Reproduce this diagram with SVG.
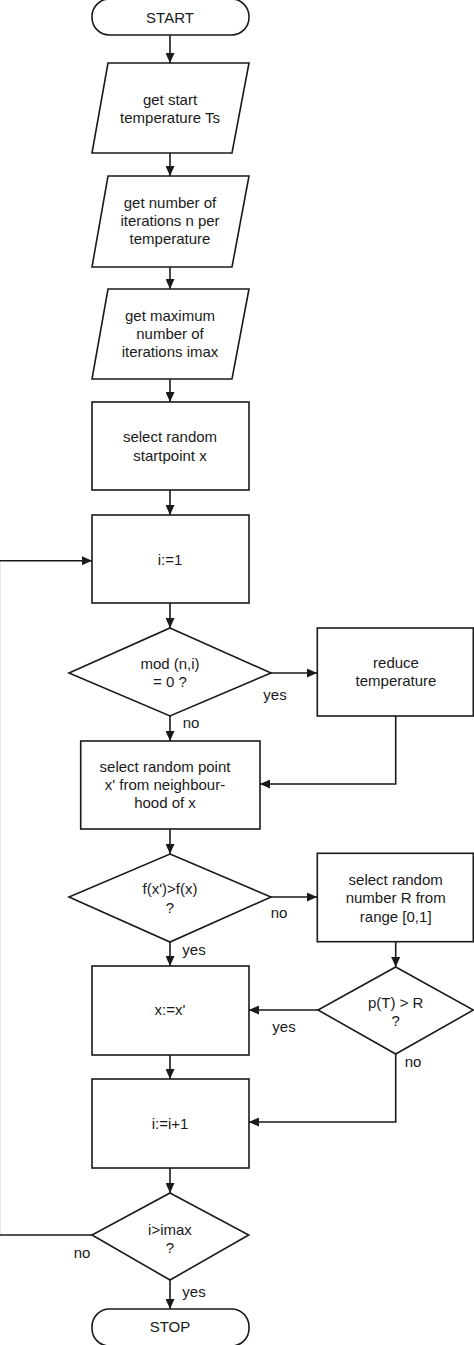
<svg xmlns="http://www.w3.org/2000/svg" width="474" height="1345" viewBox="0 0 474 1345">
<style>
.s{fill:#fff;stroke:#1a1a1a;stroke-width:1.6}
.c{fill:none;stroke:#1a1a1a;stroke-width:1.6}
text{font-family:"Liberation Sans",Arial,sans-serif;font-size:15px;fill:#1a1a1a;text-anchor:middle}
</style>
<defs>
<marker id="ah" markerUnits="userSpaceOnUse" markerWidth="10" markerHeight="9" refX="10" refY="4.5" orient="auto">
<path d="M0,0 L10,4.5 L0,9 z" fill="#1a1a1a"/>
</marker>
</defs>
<rect width="474" height="1345" fill="#fff"/>
<g id="connectors">
<path class="c" d="M170,35 V63" marker-end="url(#ah)"/>
<path class="c" d="M170,153 V176" marker-end="url(#ah)"/>
<path class="c" d="M170,267 V289" marker-end="url(#ah)"/>
<path class="c" d="M170,379 V402" marker-end="url(#ah)"/>
<path class="c" d="M170,490 V515" marker-end="url(#ah)"/>
<path class="c" d="M170,603 V628" marker-end="url(#ah)"/>
<path class="c" d="M271,673 H317" marker-end="url(#ah)"/>
<path class="c" d="M170,716 V741" marker-end="url(#ah)"/>
<path class="c" d="M395.7,716 V784 H260" marker-end="url(#ah)"/>
<path class="c" d="M170,829 V854" marker-end="url(#ah)"/>
<path class="c" d="M271,897 H317" marker-end="url(#ah)"/>
<path class="c" d="M170,942 V966" marker-end="url(#ah)"/>
<path class="c" d="M395.7,942 V967" marker-end="url(#ah)"/>
<path class="c" d="M318,1010 H249" marker-end="url(#ah)"/>
<path class="c" d="M170,1055 V1079" marker-end="url(#ah)"/>
<path class="c" d="M395.7,1054 V1122 H249" marker-end="url(#ah)"/>
<path class="c" d="M170,1168 V1193" marker-end="url(#ah)"/>
<path class="c" d="M92,1235 H-0.7 V560.7 H92" marker-end="url(#ah)"/>
<path class="c" d="M170,1280 V1309" marker-end="url(#ah)"/>
<text x="275" y="700">yes</text>
<text x="191" y="728">no</text>
<text x="279" y="918">no</text>
<text x="194" y="955">yes</text>
<text x="284" y="1032">yes</text>
<text x="413" y="1067">no</text>
<text x="82" y="1258">no</text>
<text x="194" y="1297">yes</text>
</g>
<g id="start">
<rect class="s" x="92" y="-1" width="157" height="36" rx="17.5"/>
<text x="170" y="22.5">START</text>
</g>
<g id="get_ts">
<path class="s" d="M108,63 H249 L232,153 H92 Z"/>
<text x="170" y="104.5">get start</text>
<text x="170" y="122.5">temperature Ts</text>
</g>
<g id="get_n">
<path class="s" d="M108,176 H249 L232,267 H92 Z"/>
<text x="170" y="208">get number of</text>
<text x="170" y="226">iterations n per</text>
<text x="170" y="244">temperature</text>
</g>
<g id="get_imax">
<path class="s" d="M108,289 H249 L232,379 H92 Z"/>
<text x="170" y="320.5">get maximum</text>
<text x="170" y="338.5">number of</text>
<text x="170" y="356.5">iterations imax</text>
</g>
<g id="select_start">
<rect class="s" x="92" y="402" width="157" height="88"/>
<text x="170" y="442">select random</text>
<text x="170" y="460.5">startpoint x</text>
</g>
<g id="init_i">
<rect class="s" x="92" y="515" width="157" height="88"/>
<text x="170" y="564.5">i:=1</text>
</g>
<g id="mod_check">
<path class="s" d="M170,628 L271,673 L170,716 L69,673 Z"/>
<text x="170" y="668.5">mod (n,i)</text>
<text x="170" y="686.5">= 0 ?</text>
</g>
<g id="reduce_temp">
<rect class="s" x="317.3" y="628" width="156" height="88"/>
<text x="396" y="668">reduce</text>
<text x="396" y="686">temperature</text>
</g>
<g id="select_neighbour">
<rect class="s" x="80.7" y="741" width="179.3" height="88"/>
<text x="165" y="771.5">select random point</text>
<text x="165" y="789.5">x' from neighbour-</text>
<text x="165" y="808">hood of x</text>
</g>
<g id="compare_f">
<path class="s" d="M170,854 L271,897 L170,942 L69,897 Z"/>
<text x="170" y="894">f(x')&gt;f(x)</text>
<text x="170" y="912.5">?</text>
</g>
<g id="select_R">
<rect class="s" x="317.3" y="853.3" width="156" height="88.4"/>
<text x="395.7" y="884.5">select random</text>
<text x="395.7" y="903">number R from</text>
<text x="395.7" y="921.5">range [0,1]</text>
</g>
<g id="p_check">
<path class="s" d="M395.7,967 L473.4,1010 L395.7,1054 L318,1010 Z"/>
<text x="395.7" y="1008">p(T) &gt; R</text>
<text x="395.7" y="1026">?</text>
</g>
<g id="assign_x">
<rect class="s" x="92" y="966" width="157" height="89"/>
<text x="170" y="1014.5">x:=x'</text>
</g>
<g id="inc_i">
<rect class="s" x="92" y="1079" width="157" height="89"/>
<text x="170" y="1128.5">i:=i+1</text>
</g>
<g id="imax_check">
<path class="s" d="M170,1193 L248.7,1235 L170,1280 L92,1235 Z"/>
<text x="170" y="1234.5">i&gt;imax</text>
<text x="170" y="1252.5">?</text>
</g>
<g id="stop">
<rect class="s" x="92" y="1309" width="157" height="37" rx="17.5"/>
<text x="170" y="1332">STOP</text>
</g>
</svg>
